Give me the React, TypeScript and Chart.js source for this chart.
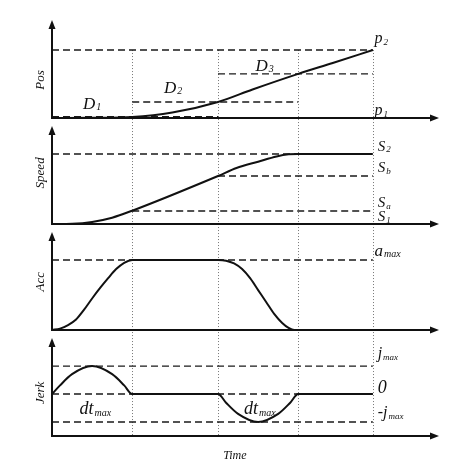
import React, { useEffect, useRef } from "react";
import { Chart, registerables } from "chart.js";

Chart.register(...registerables);

// ---- data ----
const phaseTimes = [0, 1, 2.07, 3.07, 4];
const timeMax = 4.85;

const posTimes = [0, 0.5, 1, 1.5, 2.07, 2.5, 3.07, 3.5, 4];
const posValues = [0, 0.003, 0.015, 0.08, 0.235, 0.42, 0.65, 0.81, 1];

const speedTimes = [0, 0.25, 0.5, 0.75, 1, 2.07, 2.3, 2.57, 2.8, 2.95, 3.07, 4];
const speedValues = [0, 0.004, 0.03, 0.09, 0.19, 0.686, 0.8, 0.89, 0.965, 0.995, 1, 1];

const accTimes = [0, 0.1, 0.2, 0.3, 0.4, 0.5, 0.6, 0.7, 0.8, 0.9, 1, 2.07, 2.17, 2.27, 2.37, 2.47, 2.57, 2.67, 2.77, 2.87, 2.95, 3.02, 4];
const accValues = [0, 0.02, 0.07, 0.15, 0.29, 0.45, 0.6, 0.74, 0.87, 0.96, 1, 1, 0.99, 0.95, 0.87, 0.74, 0.57, 0.4, 0.23, 0.1, 0.03, 0, 0];

const jerkTimes = [0, 0.1, 0.25, 0.5, 0.75, 0.9, 1, 2.07, 2.17, 2.32, 2.57, 2.82, 2.97, 3.07, 4];
const jerkValues = [0, 0.31, 0.71, 1, 0.71, 0.31, 0, 0, -0.31, -0.71, -1, -0.71, -0.31, 0, 0];

// reference (dashed) levels: [from time, to time, level]
const posRefs = [
  [0, 4, 1],
  [2.07, 4, 0.65],
  [1, 3.07, 0.235],
  [0, 2.07, 0.02],
];
const speedRefs = [
  [0, 3.07, 1],
  [2.07, 4, 0.686],
  [1, 4, 0.186],
];
const accRefs = [[0, 4, 1]];
const jerkRefs = [
  [0, 4, 1],
  [0, 4, 0],
  [0, 4, -1],
];

const axisRanges = {
  yPos: [0, 1.56],
  ySpeed: [0, 1.514],
  yAcc: [0, 1.514],
  yJerk: [-1.5, 2.29],
};

const axisTitles = [
  ["yPos", "Pos", 0.56],
  ["ySpeed", "Speed", 0.73],
  ["yAcc", "Acc", 0.69],
  ["yJerk", "Jerk", 0.04],
];

// labels: [axis, base, sub, time, value, size, align]
const textLabels: [string, string, string, number, number, number, string][] = [
  ["yPos", "p", "2", 4.02, 1.18, 16, "left"],
  ["yPos", "p", "1", 4.02, 0.12, 16, "left"],
  ["yPos", "D", "1", 0.5, 0.22, 17, "center"],
  ["yPos", "D", "2", 1.51, 0.456, 17, "center"],
  ["yPos", "D", "3", 2.65, 0.78, 17, "center"],
  ["ySpeed", "S", "2", 4.06, 1.12, 15, "left"],
  ["ySpeed", "S", "b", 4.06, 0.81, 15, "left"],
  ["ySpeed", "S", "a", 4.06, 0.31, 15, "left"],
  ["ySpeed", "S", "1", 4.06, 0.11, 15, "left"],
  ["yAcc", "a", "max", 4.02, 1.14, 17, "left"],
  ["yJerk", "j", "max", 4.06, 1.46, 16, "left"],
  ["yJerk", "0", "", 4.06, 0.25, 18, "left"],
  ["yJerk", "-j", "max", 4.06, -0.64, 16, "left"],
  ["yJerk", "dt", "max", 0.54, -0.5, 18, "center"],
  ["yJerk", "dt", "max", 2.59, -0.5, 18, "center"],
];

const xTitle = "Time";
const xTitleTime = 2.28;

// ---- helpers ----
const FONT = '"Liberation Serif", "DejaVu Serif", serif';
const toPts = (xs: number[], ys: number[]) => xs.map((x, i) => ({ x, y: ys[i] }));

function curveDs(axis: string, xs: number[], ys: number[]) {
  return {
    yAxisID: axis,
    xAxisID: "x",
    data: toPts(xs, ys),
    borderColor: "#111",
    borderWidth: 2,
    pointRadius: 0,
    cubicInterpolationMode: "monotone",
    fill: false,
  };
}
function refDs(axis: string, r: number[]) {
  return {
    yAxisID: axis,
    xAxisID: "x",
    data: [
      { x: r[0], y: r[2] },
      { x: r[1], y: r[2] },
    ],
    borderColor: "#1a1a1a",
    borderWidth: 1.4,
    borderDash: [7, 4],
    pointRadius: 0,
    fill: false,
  };
}

function drawLabel(ctx: CanvasRenderingContext2D, base: string, sub: string, x: number, y: number, size: number, align: string) {
  const subSize = Math.round(size * 0.58);
  ctx.font = `italic ${size}px ${FONT}`;
  const bw = ctx.measureText(base).width;
  ctx.font = `italic ${subSize}px ${FONT}`;
  const sw = sub ? ctx.measureText(sub).width + 1 : 0;
  const total = bw + sw;
  const x0 = align === "center" ? x - total / 2 : x;
  const baseline = y + size * 0.33;
  ctx.textAlign = "left";
  ctx.textBaseline = "alphabetic";
  ctx.fillStyle = "#111";
  ctx.font = `italic ${size}px ${FONT}`;
  ctx.fillText(base, x0, baseline);
  if (sub) {
    ctx.font = `italic ${subSize}px ${FONT}`;
    ctx.fillText(sub, x0 + bw + 1, baseline + size * 0.1);
  }
}

const panelPlugin = {
  id: "panels",
  beforeDraw(chart: any) {
    const { ctx } = chart;
    ctx.save();
    ctx.fillStyle = "#fff";
    ctx.fillRect(0, 0, chart.width, chart.height);
    ctx.restore();
  },
  beforeDatasetsDraw(chart: any) {
    const { ctx, chartArea } = chart;
    const xs = chart.scales.x;
    const top = chart.scales.yPos.getPixelForValue(1);
    ctx.save();
    ctx.strokeStyle = "#777";
    ctx.lineWidth = 1;
    ctx.setLineDash([1, 2]);
    phaseTimes.slice(1).forEach((t) => {
      const px = Math.round(xs.getPixelForValue(t)) + 0.5;
      ctx.beginPath();
      ctx.moveTo(px, top);
      ctx.lineTo(px, chartArea.bottom);
      ctx.stroke();
    });
    ctx.restore();
  },
  afterDatasetsDraw(chart: any) {
    const { ctx, chartArea } = chart;
    ctx.save();
    ctx.strokeStyle = "#111";
    ctx.fillStyle = "#111";
    ctx.lineWidth = 2;
    ctx.setLineDash([]);
    const left = chartArea.left;
    const tipX = chartArea.right - 2;
    ["yPos", "ySpeed", "yAcc", "yJerk"].forEach((id) => {
      const s = chart.scales[id];
      const yb = s.bottom;
      const yt = s.top + 8;
      ctx.beginPath();
      ctx.moveTo(left, yb);
      ctx.lineTo(left, yt + 6);
      ctx.stroke();
      ctx.beginPath();
      ctx.moveTo(left, yt);
      ctx.lineTo(left - 3.5, yt + 9);
      ctx.lineTo(left + 3.5, yt + 9);
      ctx.closePath();
      ctx.fill();
      ctx.beginPath();
      ctx.moveTo(left - 1, yb);
      ctx.lineTo(tipX - 6, yb);
      ctx.stroke();
      ctx.beginPath();
      ctx.moveTo(tipX, yb);
      ctx.lineTo(tipX - 9, yb - 3.5);
      ctx.lineTo(tipX - 9, yb + 3.5);
      ctx.closePath();
      ctx.fill();
    });
    ctx.restore();
  },
  afterDraw(chart: any) {
    const { ctx, chartArea } = chart;
    const xs = chart.scales.x;
    ctx.save();
    textLabels.forEach(([axis, base, sub, t, v, size, align]) => {
      const px = xs.getPixelForValue(t);
      const py = chart.scales[axis].getPixelForValue(v);
      drawLabel(ctx, base, sub, px, py, size, align);
    });
    axisTitles.forEach(([axis, title, v]) => {
      const py = chart.scales[axis as string].getPixelForValue(v as number);
      ctx.save();
      ctx.translate(chartArea.left - 8, py);
      ctx.rotate(-Math.PI / 2);
      ctx.font = `italic 13px ${FONT}`;
      ctx.fillStyle = "#111";
      ctx.textAlign = "center";
      ctx.textBaseline = "alphabetic";
      ctx.fillText(title as string, 0, 0);
      ctx.restore();
    });
    ctx.font = `italic 12px ${FONT}`;
    ctx.fillStyle = "#111";
    ctx.textAlign = "center";
    ctx.textBaseline = "middle";
    ctx.fillText(xTitle, xs.getPixelForValue(xTitleTime), chartArea.bottom + 20);
    ctx.restore();
  },
};

export default function App() {
  const ref = useRef<HTMLCanvasElement | null>(null);
  useEffect(() => {
    if (!ref.current) return;
    const datasets: any[] = [
      curveDs("yPos", posTimes, posValues),
      curveDs("ySpeed", speedTimes, speedValues),
      curveDs("yAcc", accTimes, accValues),
      curveDs("yJerk", jerkTimes, jerkValues),
      ...posRefs.map((r) => refDs("yPos", r)),
      ...speedRefs.map((r) => refDs("ySpeed", r)),
      ...accRefs.map((r) => refDs("yAcc", r)),
      ...jerkRefs.map((r) => refDs("yJerk", r)),
    ];
    const yScale = (id: string, weight: number) => ({
      type: "linear",
      position: "left",
      stack: "panels",
      stackWeight: 1,
      weight,
      min: (axisRanges as any)[id][0],
      max: (axisRanges as any)[id][1],
      display: false,
    });
    const chart = new Chart(ref.current, {
      type: "line",
      data: { datasets },
      options: {
        animation: false,
        responsive: false,
        devicePixelRatio: 1,
        layout: { padding: { left: 52, right: 33, top: 12, bottom: 38 } },
        plugins: { legend: { display: false }, tooltip: { enabled: false } },
        scales: {
          x: { type: "linear", min: 0, max: timeMax, display: false },
          yPos: yScale("yPos", 4),
          ySpeed: yScale("ySpeed", 3),
          yAcc: yScale("yAcc", 2),
          yJerk: yScale("yJerk", 1),
        } as any,
      },
      plugins: [panelPlugin],
    } as any);
    return () => chart.destroy();
  }, []);
  return (
    <div style={{ position: "fixed", left: 0, top: 0, width: 474, height: 474, background: "#fff" }}>
      <canvas ref={ref} width={474} height={474} style={{ width: 474, height: 474, display: "block" }} />
    </div>
  );
}
